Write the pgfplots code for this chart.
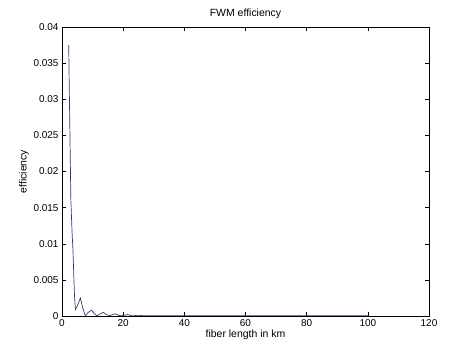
\documentclass[border=0pt]{standalone}
\usepackage{fontspec}
\setmainfont{Liberation Sans}
\usepackage{pgfplots}
\pgfplotsset{compat=1.18}
\definecolor{curve}{RGB}{55,55,115}
\begin{document}
\begin{tikzpicture}
\begin{axis}[
  scale only axis,
  width=367bp, height=289bp,
  xmin=0, xmax=120, ymin=0, ymax=0.04,
  xtick={0,20,40,60,80,100,120},
  ytick={0,0.005,0.01,0.015,0.02,0.025,0.03,0.035,0.04},
  yticklabels={0,0.005,0.01,0.015,0.02,0.025,0.03,0.035,0.04},
  xticklabels={0,20,40,60,80,100,120},
  tick align=inside,
  tick pos=both,
  major tick length=4bp,
  tick style={black, line width=0.5pt},
  axis line style={black, line width=0.6pt},
  ticklabel style={font=\fontsize{10}{12}\selectfont},
  title={FWM efficiency},
  title style={font=\fontsize{10.5}{12}\selectfont, yshift=-1bp},
  xlabel={fiber length in km},
  ylabel={efficiency},
  label style={font=\fontsize{10.5}{12}\selectfont},
  xlabel style={yshift=3bp},
  ylabel style={yshift=-2bp},
  scaled y ticks=false,
]
\addplot[curve, line width=0.7pt] coordinates {
(2.2,0.0375) (2.3,0.0340) (2.6,0.0250) (2.9,0.0160) (3.3,0.0115) (3.6,0.0090)
(3.9,0.0050) (4.1,0.0027) (4.4,0.0009) (4.9,0.0013) (5.4,0.0018) (6.0,0.0025)
(6.8,0.0011) (7.6,0.00005) (8.6,0.0005) (9.7,0.0008) (10.6,0.0003) (11.5,0.00003)
(12.5,0.0003) (13.5,0.0005) (14.5,0.0002) (15.5,0.00005) (16.5,0.0002) (17.5,0.0003)
(18.5,0.0001) (19.5,0.00003) (20.5,0.0001) (21.5,0.0002) (22.5,0.00005) (23.5,0.00002)
(24.5,0.0001) (25.5,0.00008) (27,0.00002) (30,0.00004) (35,0.00003) (40,0.00003)
(50,0.00003) (60,0.00003) (70,0.00003) (80,0.00003) (90,0.00003) (100,0.00003)
};
\end{axis}
\useasboundingbox ([xshift=-62bp,yshift=-39bp]current axis.south west) rectangle ++(474bp,355bp);
\end{tikzpicture}
\end{document}
